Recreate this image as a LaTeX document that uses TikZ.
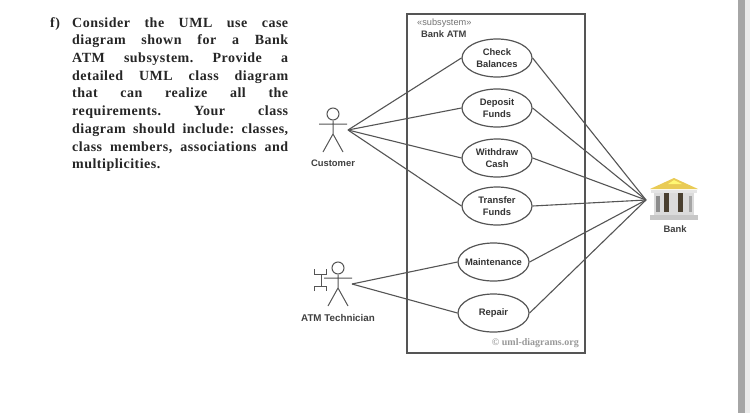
\documentclass[tikz,border=0pt]{standalone}
\usepackage{fontspec}
\setmainfont{Liberation Serif}
\setsansfont{Liberation Sans}
\usetikzlibrary{shapes.geometric}
\definecolor{ink}{HTML}{555555}
\definecolor{gold}{HTML}{E9CB55}
\definecolor{pillar}{HTML}{4A4030}
\tikzset{x=1pt,y=-1pt,
 usecase/.style={ellipse,draw=ink,line width=1.2pt,minimum width=70pt,minimum height=38pt,inner sep=0pt,align=center,font=\sffamily\bfseries\fontsize{9.4}{12}\selectfont,text=black!80},
 link/.style={draw=ink,line width=1.1pt},
 stick/.style={draw=ink,line width=1pt},
 actorlabel/.style={font=\sffamily\bfseries\fontsize{9.4}{10}\selectfont,text=black!75,inner sep=0pt},
 para/.style={anchor=base west,inner sep=0pt,font=\bfseries\fontsize{14}{17}\selectfont\addfontfeature{LetterSpace=3.5},text=black!85}}
\begin{document}
\begin{tikzpicture}
\useasboundingbox (0,0) rectangle (750,413);
\fill[white] (0,0) rectangle (750,413);
\fill[black!35] (738,0) rectangle (745,413);
\fill[black!8] (745,0) rectangle (750,413);
% question text
\node[para] (qf) at (50,27) {f)};
\node[para] (q1) at (72,27) {\hbox to 216pt{Consider\hfill the\hfill UML\hfill use\hfill case}};
\node[para] (q2) at (72,44.7) {\hbox to 216pt{diagram\hfill shown\hfill for\hfill a\hfill Bank}};
\node[para] (q3) at (72,62.4) {\hbox to 216pt{ATM\hfill subsystem.\hfill Provide\hfill a}};
\node[para] (q4) at (72,80) {\hbox to 216pt{detailed\hfill UML\hfill class\hfill diagram}};
\node[para] (q5) at (72,97.8) {\hbox to 216pt{that\hfill can\hfill realize\hfill all\hfill the}};
\node[para] (q6) at (72,115.5) {\hbox to 216pt{requirements.\hfill Your\hfill class}};
\node[para] (q7) at (72,133) {\hbox to 216pt{diagram\hfill should\hfill include:\hfill classes,}};
\node[para] (q8) at (72,151) {\hbox to 216pt{class\hfill members,\hfill associations\hfill and}};
\node[para] (q9) at (72,168.5) {multiplicities.};
% subsystem
\node[draw=ink,line width=1.3pt,minimum width=178pt,minimum height=339pt,inner sep=0pt] (sys) at (496,183.5) {};
\node[anchor=west,inner sep=0pt,font=\sffamily\fontsize{9.2}{10}\selectfont,text=black!55] (st) at (417,23) {«subsystem»};
\node[anchor=west,inner sep=0pt,font=\sffamily\bfseries\fontsize{9.4}{10}\selectfont,text=black!75] (sn) at (421,34) {Bank ATM};
\node[usecase] (check) at (497,58) {Check\\Balances};
\node[usecase] (deposit) at (497,108) {Deposit\\Funds};
\node[usecase] (withdraw) at (497,158) {Withdraw\\Cash};
\node[usecase] (transfer) at (497,206) {Transfer\\Funds};
\node[usecase,minimum width=71pt] (maint) at (493.5,262) {\makebox[0pt]{Maintenance}};
\node[usecase,minimum width=71pt] (repair) at (493.5,313) {Repair};
\node[anchor=east,inner sep=0pt,font=\fontsize{10}{11}\selectfont\bfseries,text=black!40] (copy) at (579,343) {© uml-diagrams.org};
% connectors
\coordinate (chub) at (348,130);
\coordinate (thub) at (352,284);
\coordinate (bhub) at (646,200);
\foreach \t in {check,deposit,withdraw,transfer}{
  \draw[link] (chub) -- (\t.west);
  \draw[link] (\t.east) -- (bhub);
}
\foreach \t in {maint,repair}{
  \draw[link] (thub) -- (\t.west);
  \draw[link] (\t.east) -- (bhub);
}
% customer
\node[draw=ink,line width=1pt,circle,minimum size=12pt,inner sep=0pt] (chead) at (333,114) {};
\draw[stick] (chead.south) -- (333,134) -- (323,152) (333,134) -- (343,152) (319,124) -- (347,124);
\node[actorlabel] (clab) at (333,163) {Customer};
% technician
\node[draw=ink,line width=1pt,circle,minimum size=12pt,inner sep=0pt] (thead) at (338,268) {};
\draw[stick] (thead.south) -- (338,288) -- (328,306) (338,288) -- (348,306) (324,278) -- (352,278);
\draw[stick] (314.5,269) -- (314.5,274) -- (326,274) -- (326,269) (321,274) -- (321,286) (314.5,291) -- (314.5,286) -- (326.5,286) -- (326.5,291);
\node[actorlabel,font=\sffamily\bfseries\fontsize{9.8}{10}\selectfont] (tlab) at (338,318) {ATM Technician};
% bank
\fill[black!14] (654,190) rectangle (694,215);
\fill[black!22] (650,215) rectangle (698,220);
\fill[black!10] (651,190) rectangle (697,193);
\fill[gold] (650,189) -- (674,178) -- (698,189) -- cycle;
\fill[yellow!55!white] (668,184) -- (674,180) -- (682,184) -- cycle;
\fill[pillar] (664,193) rectangle (669,212);
\fill[pillar] (678,193) rectangle (683,212);
\fill[black!45] (656,196) rectangle (660,212);
\fill[black!35] (689,196) rectangle (692,212);
\node[actorlabel] (blab) at (675,229) {Bank};
\end{tikzpicture}
\end{document}
